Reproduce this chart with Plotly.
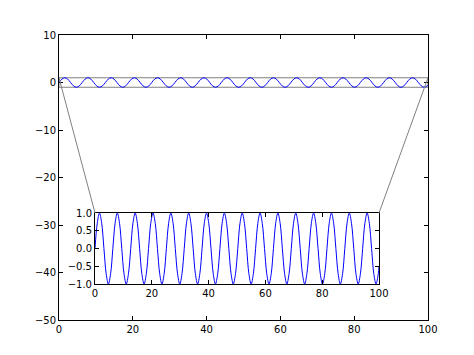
import plotly.graph_objects as go

x_vals = [0.00, 0.79, 1.57, 2.36, 3.14, 3.93, 4.71, 5.50, 6.28, 7.07, 7.85, 8.64,
          9.42, 10.21, 11.00, 11.78, 12.57, 13.35, 14.14, 14.92, 15.71, 16.49, 17.28, 18.06,
          18.85, 19.63, 20.42, 21.21, 21.99, 22.78, 23.56, 24.35, 25.13, 25.92, 26.70, 27.49,
          28.27, 29.06, 29.85, 30.63, 31.42, 32.20, 32.99, 33.77, 34.56, 35.34, 36.13, 36.91,
          37.70, 38.48, 39.27, 40.06, 40.84, 41.63, 42.41, 43.20, 43.98, 44.77, 45.55, 46.34,
          47.12, 47.91, 48.69, 49.48, 50.27, 51.05, 51.84, 52.62, 53.41, 54.19, 54.98, 55.76,
          56.55, 57.33, 58.12, 58.90, 59.69, 60.48, 61.26, 62.05, 62.83, 63.62, 64.40, 65.19,
          65.97, 66.76, 67.54, 68.33, 69.12, 69.90, 70.69, 71.47, 72.26, 73.04, 73.83, 74.61,
          75.40, 76.18, 76.97, 77.75, 78.54, 79.33, 80.11, 80.90, 81.68, 82.47, 83.25, 84.04,
          84.82, 85.61, 86.39, 87.18, 87.96, 88.75, 89.54, 90.32, 91.11, 91.89, 92.68, 93.46,
          94.25, 95.03, 95.82, 96.60, 97.39, 98.17, 98.96, 99.75, 100.00]
y_vals = [0, 0.71, 1, 0.71, 0, -0.71, -1, -0.71,
          0, 0.71, 1, 0.71, 0, -0.71, -1, -0.71,
          0, 0.71, 1, 0.71, 0, -0.71, -1, -0.71,
          0, 0.71, 1, 0.71, 0, -0.71, -1, -0.71,
          0, 0.71, 1, 0.71, 0, -0.71, -1, -0.71,
          0, 0.71, 1, 0.71, 0, -0.71, -1, -0.71,
          0, 0.71, 1, 0.71, 0, -0.71, -1, -0.71,
          0, 0.71, 1, 0.71, 0, -0.71, -1, -0.71,
          0, 0.71, 1, 0.71, 0, -0.71, -1, -0.71,
          0, 0.71, 1, 0.71, 0, -0.71, -1, -0.71,
          0, 0.71, 1, 0.71, 0, -0.71, -1, -0.71,
          0, 0.71, 1, 0.71, 0, -0.71, -1, -0.71,
          0, 0.71, 1, 0.71, 0, -0.71, -1, -0.71,
          0, 0.71, 1, 0.71, 0, -0.71, -1, -0.71,
          0, 0.71, 1, 0.71, 0, -0.71, -1, -0.71,
          0, 0.71, 1, 0.71, 0, -0.71, -1, -0.71,
          -0.51]

main_x_ticks = [0, 20, 40, 60, 80, 100]
main_y_ticks = [-50, -40, -30, -20, -10, 0, 10]
inset_x_ticks = [0, 20, 40, 60, 80, 100]
inset_y_ticks = [-1.0, -0.5, 0.0, 0.5, 1.0]

main_x_range = [0, 100]
main_y_range = [-50, 10]
zoom_x = [0, 100]
zoom_y = [-1, 1]

inset_x_dom = [0.0976, 0.8672]
inset_y_dom = [0.1263, 0.3754]

FONT = dict(family="DejaVu Sans", size=10, color="black")
LINE = "#0000ff"

fig = go.Figure()
fig.add_trace(go.Scatter(x=x_vals, y=y_vals, mode="lines",
                         line=dict(color=LINE, width=1, shape="spline"),
                         xaxis="x", yaxis="y", showlegend=False, hoverinfo="skip"))
fig.add_trace(go.Scatter(x=x_vals, y=y_vals, mode="lines",
                         line=dict(color=LINE, width=1, shape="spline"),
                         xaxis="x2", yaxis="y2", showlegend=False, hoverinfo="skip"))

axis_common = dict(showline=True, linecolor="black", linewidth=1, mirror="allticks",
                   ticks="inside", ticklen=4, tickwidth=1, tickcolor="black",
                   showgrid=False, zeroline=False, tickfont=FONT)

fig.update_layout(
    width=474, height=355,
    margin=dict(l=59, r=46, t=35, b=35),
    paper_bgcolor="white", plot_bgcolor="white",
    font=FONT,
    xaxis=dict(range=main_x_range, tickvals=main_x_ticks, domain=[0, 1], anchor="y", **axis_common),
    yaxis=dict(range=main_y_range, tickvals=main_y_ticks, domain=[0, 1], anchor="x", **axis_common),
    xaxis2=dict(range=zoom_x, tickvals=inset_x_ticks, domain=inset_x_dom, anchor="y2", **axis_common),
    yaxis2=dict(range=zoom_y, tickvals=inset_y_ticks, tickformat=".1f", domain=inset_y_dom,
                anchor="x2", **axis_common),
)

# inset corners expressed in main-axes data coordinates
def to_main_x(f):
    return main_x_range[0] + f * (main_x_range[1] - main_x_range[0])

def to_main_y(f):
    return main_y_range[0] + f * (main_y_range[1] - main_y_range[0])

gray = dict(color="#808080", width=1)
fig.add_shape(type="rect", xref="x", yref="y", x0=zoom_x[0], x1=zoom_x[1],
              y0=zoom_y[0], y1=zoom_y[1], line=gray, layer="below")
fig.add_shape(type="line", xref="x", yref="y", x0=zoom_x[0], y0=zoom_y[1],
              x1=to_main_x(inset_x_dom[0]), y1=to_main_y(inset_y_dom[1]), line=gray)
fig.add_shape(type="line", xref="x", yref="y", x0=zoom_x[1], y0=zoom_y[1],
              x1=to_main_x(inset_x_dom[1]), y1=to_main_y(inset_y_dom[1]), line=gray)

fig.write_html("out.html")
